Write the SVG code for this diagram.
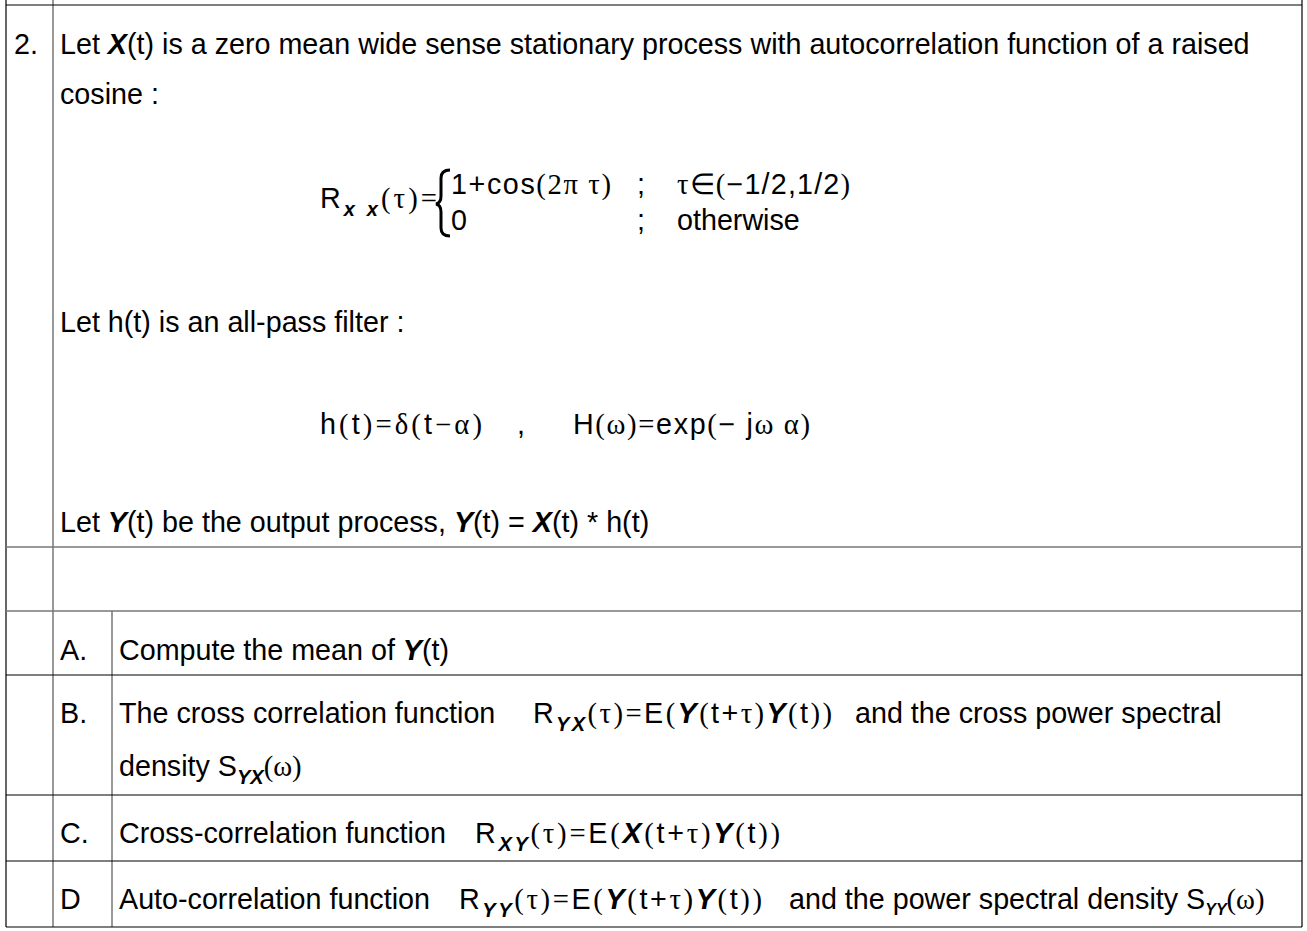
<svg xmlns="http://www.w3.org/2000/svg" width="1307" height="931" viewBox="0 0 1307 931">
<style>
text{font-family:"Liberation Sans",Arial,sans-serif;font-size:28.7px;fill:#000}
.g{stroke:#777;stroke-width:1.5;fill:none}
.k{stroke:#000;stroke-width:1.2;fill:none}
.m{font-family:"Liberation Serif",serif}
.s{font-size:20px;font-style:italic;font-weight:bold}
.b{font-style:italic;font-weight:bold}
</style>
<rect width="1307" height="931" fill="#fff"/>
<g id="table">
<line class="k" x1="6" y1="0" x2="6" y2="927"/>
<line class="k" x1="1302" y1="0" x2="1302" y2="927"/>
<line class="g" x1="53" y1="0" x2="53" y2="927"/>
<line class="g" x1="112" y1="611" x2="112" y2="927"/>
<line class="k" x1="6" y1="5" x2="1302" y2="5"/>
<line class="g" x1="6" y1="547" x2="1302" y2="547"/>
<line class="g" x1="6" y1="611" x2="1302" y2="611"/>
<line class="k" x1="6" y1="675" x2="1302" y2="675"/>
<line class="k" x1="6" y1="795" x2="1302" y2="795"/>
<line class="k" x1="6" y1="861" x2="1302" y2="861"/>
<line class="k" x1="6" y1="927" x2="1302" y2="927"/>
</g>
<g id="text">
<text x="14" y="54">2.</text>
<text x="60" y="54">Let <tspan class="b">X</tspan>(t) is a zero mean wide sense stationary process with autocorrelation function of a raised</text>
<text x="60" y="104">cosine :</text>
<text x="320" y="208" textLength="117" lengthAdjust="spacing">R<tspan class="s" dy="8">x x</tspan><tspan dy="-8" class="m">(τ)=</tspan></text>
<path d="M450 170 Q441 170 441 178 L441 196 Q441 203 436 204 Q441 205 441 212 L441 228 Q441 236 450 236" stroke="#000" stroke-width="3" fill="none"/>
<text x="451" y="194" textLength="160" lengthAdjust="spacing">1+cos<tspan class="m">(2π τ)</tspan></text>
<text x="637" y="194">;</text>
<text x="677" y="194" textLength="173" lengthAdjust="spacing"><tspan class="m">τ∈(</tspan>−1/2,1/2<tspan class="m">)</tspan></text>
<text x="451" y="230">0</text>
<text x="637" y="230">;</text>
<text x="677" y="230">otherwise</text>
<text x="60" y="332">Let h(t) is an all-pass filter :</text>
<text x="320" y="434" textLength="162" lengthAdjust="spacing">h<tspan class="m">(</tspan>t<tspan class="m">)=δ(</tspan>t<tspan class="m">−α)</tspan></text>
<text x="517" y="434">,</text>
<text x="573" y="434" textLength="237" lengthAdjust="spacing">H<tspan class="m">(ω)=</tspan>exp<tspan class="m">(</tspan>− j<tspan class="m">ω α)</tspan></text>
<text x="60" y="532">Let <tspan class="b">Y</tspan>(t) be the output process, <tspan class="b">Y</tspan>(t) = <tspan class="b">X</tspan>(t) * h(t)</text>
<text x="60" y="660">A.</text>
<text x="119" y="660">Compute the mean of <tspan class="b">Y</tspan>(t)</text>
<text x="60" y="723">B.</text>
<text x="119" y="723">The cross correlation function</text>
<text x="533" y="723" textLength="299" lengthAdjust="spacing">R<tspan class="s" dy="8">YX</tspan><tspan dy="-8" class="m">(τ)=</tspan>E<tspan class="m">(</tspan><tspan class="b">Y</tspan><tspan class="m">(</tspan>t+<tspan class="m">τ)</tspan><tspan class="b">Y</tspan><tspan class="m">(</tspan>t<tspan class="m">))</tspan></text>
<text x="855" y="723">and the cross power spectral</text>
<text x="119" y="776">density  S<tspan class="s" dy="8">YX</tspan><tspan dy="-8" class="m">(ω)</tspan></text>
<text x="60" y="843">C.</text>
<text x="119" y="843">Cross-correlation function</text>
<text x="475" y="843" textLength="305" lengthAdjust="spacing">R<tspan class="s" dy="8">XY</tspan><tspan dy="-8" class="m">(τ)=</tspan>E<tspan class="m">(</tspan><tspan class="b">X</tspan><tspan class="m">(</tspan>t+<tspan class="m">τ)</tspan><tspan class="b">Y</tspan><tspan class="m">(</tspan>t<tspan class="m">))</tspan></text>
<text x="60" y="909">D</text>
<text x="119" y="909">Auto-correlation function</text>
<text x="459" y="909" textLength="303" lengthAdjust="spacing">R<tspan class="s" dy="8">YY</tspan><tspan dy="-8" class="m">(τ)=</tspan>E<tspan class="m">(</tspan><tspan class="b">Y</tspan><tspan class="m">(</tspan>t+<tspan class="m">τ)</tspan><tspan class="b">Y</tspan><tspan class="m">(</tspan>t<tspan class="m">))</tspan></text>
<text x="789" y="909">and the power spectral density S<tspan class="s" style="font-size:16px" dy="6">YY</tspan><tspan dy="-6" class="m">(ω)</tspan></text>
</g>
</svg>
